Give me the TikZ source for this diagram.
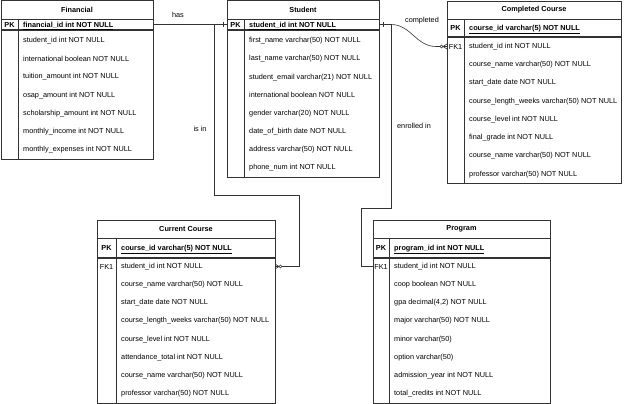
\documentclass[tikz,border=0pt]{standalone}
\usepackage{fontspec}
\setmainfont{Liberation Sans}
\usetikzlibrary{calc}
\newcommand\erfont{\fontsize{7.3}{8.7}\selectfont}
\tikzset{
  ln/.style={draw=black!80, line width=0.6pt},
  pkln/.style={draw=black!80, line width=1.1pt},
  tbl/.style={draw=black!80, line width=0.7pt, fill=white, inner sep=0pt, outer sep=0pt},
  ttl/.style={font=\erfont\bfseries, inner sep=0pt},
  fld/.style={font=\erfont, anchor=west, inner sep=0pt},
  bfld/.style={font=\erfont\bfseries, anchor=base west, inner sep=0pt},
  keyl/.style={font=\erfont, inner sep=0pt},
  bkeyl/.style={font=\erfont\bfseries, inner sep=0pt},
  rel/.style={draw=black!80, line width=0.6pt},
  lbl/.style={font=\erfont, inner sep=0pt},
}
% #1 name, #2 L, #3 T, #4 R, #5 header bottom, #6 PK bottom, #7 B, #8 separator x, #9 title
\newcommand\mktable[9]{%
  \node[tbl, minimum width={(#4-(#2))*1pt}, minimum height={(#7-(#3))*1pt}] (#1) at ({(#2+#4)/2},{(#3+#7)/2}) {};
  \draw[ln] (#2,#5) -- (#4,#5);
  \draw[ln] (#8,#5) -- (#8,#7);
  \draw[pkln] (#2,#6) -- (#4,#6);
  \node[ttl] (#1t) at ({(#2+#4)/2},{(#3+#5)/2}) {#9};
}
% #1 name, #2 L, #3 S, #4 H, #5 P, #6 text
\newcommand\pkrow[6]{%
  \node[bkeyl] (#1pkl) at ({(#2+#3)/2},{(#4+#5)/2}) {PK};
  \node[bfld] (#1pk) at (#3+5,{(#4+#5)/2+2.7}) {\underline{#6}};
}
% #1 name, #2 S, #3 first centre, #4 step, #5 list
\newcommand\fieldrows[5]{%
  \foreach \t [count=\i] in {#5} {\node[fld] (#1r\i) at (#2+5,{#3+(\i-1)*#4}) {\t};}
}
\begin{document}
\begin{tikzpicture}[x=1pt,y=-1pt]
\useasboundingbox (0,0) rectangle (624,404);
\fill[white] (0,0) rectangle (624,404);

% Financial
\mktable{fin}{1}{0.5}{153}{19}{30}{159}{18}{Financial}
\pkrow{fin}{1}{18}{19}{30}{financial\_id int NOT NULL}
\fieldrows{fin}{18}{40.5}{18.25}{student\_id int NOT NULL, international boolean NOT NULL, tuition\_amount int NOT NULL, osap\_amount int NOT NULL, scholarship\_amount int NOT NULL, monthly\_income int NOT NULL, monthly\_expenses int NOT NULL}

% Student
\mktable{stu}{227}{0.5}{379}{19}{30}{177}{244}{Student}
\pkrow{stu}{227}{244}{19}{30}{student\_id int NOT NULL}
\fieldrows{stu}{244}{41}{18.1}{first\_name varchar(50) NOT NULL, last\_name varchar(50) NOT NULL, student\_email varchar(21) NOT NULL, international boolean NOT NULL, gender varchar(20) NOT NULL, date\_of\_birth date NOT NULL, address varchar(50) NOT NULL, phone\_num int NOT NULL}

% Completed Course
\mktable{cc}{447}{1}{621}{19}{37}{183}{464}{Completed Course}
\pkrow{cc}{447}{464}{19}{37}{course\_id varchar(5) NOT NULL}
\node[keyl] (ccfk) at (455.5,46.5) {FK1};
\fieldrows{cc}{464}{46.5}{18.25}{student\_id int NOT NULL, course\_name varchar(50) NOT NULL, start\_date date NOT NULL, course\_length\_weeks varchar(50) NOT NULL, course\_level int NOT NULL, final\_grade int NOT NULL, course\_name varchar(50) NOT NULL, professor varchar(50) NOT NULL}

% Current Course
\mktable{cur}{97}{220}{275}{238}{258}{403}{116}{Current Course}
\pkrow{cur}{97}{116}{238}{258}{course\_id varchar(5) NOT NULL}
\node[keyl] (curfk) at (106.5,266.5) {FK1};
\fieldrows{cur}{116}{266.5}{18.2}{student\_id int NOT NULL, course\_name varchar(50) NOT NULL, start\_date date NOT NULL, course\_length\_weeks varchar(50) NOT NULL, course\_level int NOT NULL, attendance\_total int NOT NULL, course\_name varchar(50) NOT NULL, professor varchar(50) NOT NULL}

% Program
\mktable{prog}{373}{220}{550}{238}{258}{403}{389}{Program}
\pkrow{prog}{373}{389}{238}{258}{program\_id int NOT NULL}
\node[keyl] (progfk) at (381,266.5) {FK1};
\fieldrows{prog}{389}{266.5}{18.2}{student\_id int NOT NULL, coop boolean NOT NULL, {gpa decimal(4,2) NOT NULL}, major varchar(50) NOT NULL, minor varchar(50), option varchar(50), admission\_year int NOT NULL, total\_credits int NOT NULL}

% connectors
\coordinate (jisin) at (214,24.5);
\coordinate (jright) at (391,24.5);
\coordinate (jcurve) at (436,46.5);
\coordinate (bend1) at (299,195);
\coordinate (bend2) at (361,208);

% has
\draw[rel] (fin.east |- finpkl) -- (stu.west |- stupkl);
\draw[rel] ($(stu.west |- stupkl)+(-4,-2.5)$) -- ++(0,5);
\node[lbl] (lhas) at (178,15) {has};

% is in
\draw[rel] (jisin) |- (bend1) |- (cur.east |- curr1);
\draw[rel] ($(cur.east |- curr1)+(0,-2.5)$) -- ++(4,2.5) -- ++(-4,2.5);
\draw[rel, fill=white] ($(cur.east |- curr1)+(5.5,0)$) circle (1.5);
\node[lbl] (lisin) at (200,129) {is in};

% completed
\draw[rel] (stu.east |- stupkl) -- (jright) .. controls +(20,0) and +(-20,0) .. (jcurve) -- (cc.west |- ccr1);
\draw[rel] ($(stu.east |- stupkl)+(4,-2.5)$) -- ++(0,5);
\draw[rel] ($(cc.west |- ccr1)+(0,-2.5)$) -- ++(-4,2.5) -- ++(4,2.5);
\draw[rel, fill=white] ($(cc.west |- ccr1)+(-5.5,0)$) circle (1.5);
\node[lbl] (lcompl) at (422,21) {completed};

% enrolled in
\draw[rel] (jright) |- (bend2) |- (prog.west |- progr1);
\node[lbl] (lenr) at (414,126) {enrolled in};
\end{tikzpicture}
\end{document}
